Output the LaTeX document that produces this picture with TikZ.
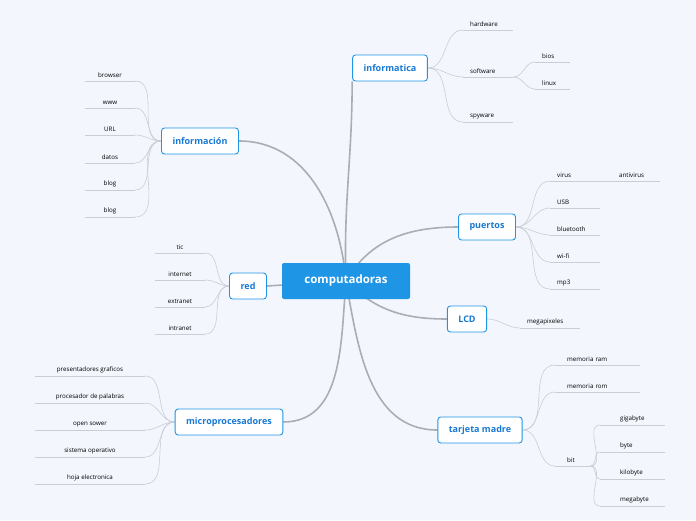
\documentclass[tikz,border=0pt]{standalone}
\usepackage{fontspec}
\setmainfont{Open Sans}
\usetikzlibrary{backgrounds}
\begin{document}
\begin{tikzpicture}[x=1pt,y=-1pt,
  central/.style={fill=cblue,rounded corners=2pt,text=white,font=\bfseries\fontsize{11.5}{13}\selectfont,minimum width=128pt,minimum height=36pt},
  branch/.style={draw=cblue,fill=white,rounded corners=3pt,text=tblue,font=\bfseries\fontsize{9}{10}\selectfont,minimum height=26pt,inner xsep=11pt,line width=0.9pt},
  leaf/.style={font=\fontsize{6.2}{7.5}\selectfont,minimum width=#1,inner ysep=3pt,anchor=south},
  leaf/.default=50pt,
  rleaf/.style={font=\fontsize{6.2}{7.5}\selectfont,text width=#1,inner xsep=7pt,align=left,inner ysep=3pt,anchor=south west},
  rleaf/.default=36pt,
  ul/.style={draw=lgrey,line width=0.6pt},
  main/.style={draw=mgrey,line width=1.6pt},
  thinc/.style={draw=lgrey,line width=0.6pt},
]
\definecolor{cblue}{HTML}{1F95E6}
\definecolor{tblue}{HTML}{1779D4}
\definecolor{lgrey}{HTML}{C8CDD6}
\definecolor{mgrey}{HTML}{A9AEB5}
\definecolor{bg}{HTML}{F3F6FD}
\useasboundingbox (0,0) rectangle (696,520);
\node[central] (c) at (346,281) {computadoras};
\node[branch] (inf) at (390,68) {informatica};
\node[branch] (info) at (200,141) {información};
\node[branch] (red) at (248,286) {red};
\node[branch] (pue) at (487,227) {puertos};
\node[branch] (lcd) at (467,319) {LCD};
\node[branch] (mic) at (229,422) {microprocesadores};
\node[branch] (tar) at (480,430) {tarjeta madre};
% leaves
\node[rleaf] (hw) at (463,30) {hardware};
\node[rleaf] (sw) at (463,77) {software};
\node[rleaf] (spy) at (463,122) {spyware};
\node[rleaf=21pt] (bios) at (535,62) {bios};
\node[rleaf=21pt] (linux) at (535,89) {linux};
\node[leaf] (l1) at (110,81) {browser};
\node[leaf] (l2) at (110,108) {www};
\node[leaf] (l3) at (110,135) {URL};
\node[leaf] (l4) at (110,163) {datos};
\node[leaf] (l5) at (110,190) {blog};
\node[leaf] (l6) at (110,217) {blog};
\node[leaf] (r1) at (180,253) {tic};
\node[leaf] (r2) at (180,280) {internet};
\node[leaf] (r3) at (180,307) {extranet};
\node[leaf] (r4) at (180,334) {intranet};
\node[rleaf] (p1) at (550,181) {virus};
\node[rleaf=34pt] (av) at (612,181) {antivirus};
\node[rleaf] (p2) at (550,208) {USB};
\node[rleaf] (p3) at (550,235) {bluetooth};
\node[rleaf] (p4) at (550,262) {wi-fi};
\node[rleaf] (p5) at (550,289) {mp3};
\node[rleaf=46pt] (mp) at (520,328) {megapixeles};
\node[leaf=110pt] (m1) at (90,376) {presentadores graficos};
\node[leaf=110pt] (m2) at (90,403) {procesador de palabras};
\node[leaf=110pt] (m3) at (90,430) {open sower};
\node[leaf=110pt] (m4) at (90,457) {sistema operativo};
\node[leaf=110pt] (m5) at (90,484) {hoja electronica};
\node[rleaf=61pt,inner xsep=12pt] (t1) at (555,365) {memoria ram};
\node[rleaf=61pt,inner xsep=12pt] (t2) at (555,392) {memoria rom};
\node[rleaf=11pt,inner xsep=12pt] (t3) at (555,466) {bit};
\node[rleaf=25pt,inner xsep=20pt] (b1) at (600,425) {gigabyte};
\node[rleaf=25pt,inner xsep=20pt] (b2) at (600,452) {byte};
\node[rleaf=25pt,inner xsep=20pt] (b3) at (600,479) {kilobyte};
\node[rleaf=25pt,inner xsep=20pt] (b4) at (600,506) {megabyte};
\begin{scope}[on background layer]
\fill[bg] (0,0) rectangle (696,520);
\foreach \n in {hw,sw,spy,bios,linux,l1,l2,l3,l4,l5,l6,r1,r2,r3,r4,p1,av,p2,p3,p4,p5,mp,m1,m2,m3,m4,m5,t1,t2,t3,b1,b2,b3,b4}
  \draw[ul] (\n.south west) -- (\n.south east);
\draw[main] (c.center) to[out=92,in=-90] (inf.south west);
\draw[main] (c.center) to[out=95,in=0] (info.east);
\draw[main] (c.center) -- (red.east);
\draw[main] (c.center) to[out=60,in=180] (pue.west);
\draw[main] (c.center) to[out=-45,in=180] (lcd.west);
\draw[main] (c.center) to[out=-95,in=0] (mic.east);
\draw[main] (c.center) to[out=-80,in=180] (tar.west);
\foreach \n in {hw,sw,spy} \draw[thinc] (inf.east) to[out=0,in=180] (\n.south west);
\foreach \n in {bios,linux} \draw[thinc] (sw.south east) to[out=0,in=180] (\n.south west);
\foreach \n in {l1,l2,l3,l4,l5,l6} \draw[thinc] (info.west) to[out=180,in=0] (\n.south east);
\foreach \n in {r1,r2,r3,r4} \draw[thinc] (red.west) to[out=180,in=0] (\n.south east);
\foreach \n in {p1,p2,p3,p4,p5} \draw[thinc] (pue.east) to[out=0,in=180] (\n.south west);
\draw[thinc] (p1.south east) -- (av.south west);
\draw[thinc] (lcd.east) to[out=0,in=180] (mp.south west);
\foreach \n in {m1,m2,m3,m4,m5} \draw[thinc] (mic.west) to[out=180,in=0] (\n.south east);
\foreach \n in {t1,t2,t3} \draw[thinc] (tar.east) to[out=0,in=180] (\n.south west);
\foreach \n in {b1,b2,b3,b4} \draw[thinc] (t3.south east) to[out=0,in=180] (\n.south west);
\end{scope}
\end{tikzpicture}
\end{document}
